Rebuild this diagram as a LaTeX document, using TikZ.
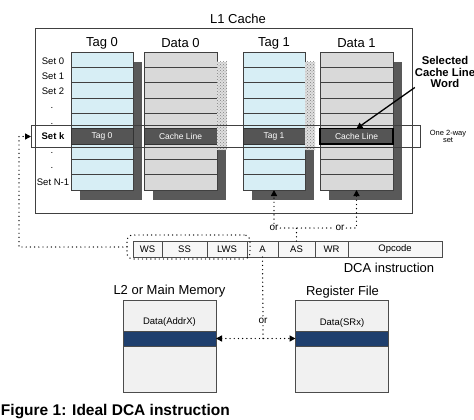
\documentclass[tikz,border=0pt]{standalone}
\usepackage{fontspec}
\setmainfont{Liberation Sans}
\usetikzlibrary{positioning,arrows.meta,patterns}
\definecolor{tagblue}{RGB}{215,238,245}
\definecolor{datgray}{RGB}{217,217,217}
\definecolor{bardark}{RGB}{85,85,85}
\definecolor{shadowgray}{RGB}{89,89,89}
\definecolor{bandblue}{RGB}{31,63,110}
\definecolor{boxgray}{RGB}{241,241,241}
\newcommand{\fsz}[1]{\fontsize{#1}{#1}\selectfont}

\begin{document}
\begin{tikzpicture}[x=1pt,y=-1pt,
    every node/.style={inner sep=0pt, outer sep=0pt},
    col/.style={draw=black!75, line width=0.6pt},
    rowbar/.style={draw=black!80, fill=bardark, text=white, font=\fsz{8.5}, minimum height=15.3},
    setlbl/.style={font=\fsz{9.5}},
    fld/.style={draw=black!70, line width=0.6pt, fill=gray!6, font=\fsz{9.5}, minimum height=16},
    membox/.style={draw=black!70, line width=0.6pt, fill=boxgray, minimum width=93, minimum height=92},
    band/.style={draw=black!70, fill=bandblue, minimum width=93, minimum height=15},
    ortxt/.style={font=\fsz{10}, inner sep=2pt},
    dotline/.style={line width=1.4pt, line cap=round, dash pattern=on 0pt off 4.2pt},
    >={Triangle[length=6pt,width=6pt]}]
  \useasboundingbox (0,0) rectangle (474,420);

  % L1 cache frame
  \node[draw=black!75, line width=0.7pt, minimum width=377, minimum height=185] (l1) at (223.5,120.5) {};
  \node[font=\fsz{13}] (l1-t) at (238,19) {L1 Cache};

  % Ways (tag and data arrays with shadows)
  \foreach \cx/\w/\nm/\fc/\ttl/\btxt in {71/62/tagA/tagblue/Tag 0/Tag 0, 144/73/datA/datgray/Data 0/Cache Line,
      243/62/tagB/tagblue/Tag 1/Tag 1, 320/73/datB/datgray/Data 1/Cache Line} {
    \fill[shadowgray] (\cx+9,62) rectangle (\cx+\w+9,200);
    \node[col, fill=\fc, minimum width=\w, minimum height=138] (\nm) at (\cx+\w/2,121) {};
    \foreach \r in {1,...,8}
      \draw[black!75, line width=0.6pt] (\cx,52+\r*15.33) -- ++(\w,0);
    \node[rowbar, minimum width=\w] (\nm-k) at (\cx+\w/2,136.3) {\btxt};
    \node[font=\fsz{13}] (\nm-t) at (\cx+\w/2,43) {\ttl};
  }
  \foreach \cx in {217,305} {
    \fill[gray!25] (\cx,62) rectangle (\cx+10,150);
    \fill[pattern=crosshatch dots, pattern color=gray] (\cx,62) rectangle (\cx+10,150);
  }
  \draw[line width=1.2pt] (datB-k.north west) rectangle (datB-k.south east);

  % Set labels
  \foreach \y/\s [count=\i] in {61/Set 0, 76.5/Set 1, 91.5/Set 2, 182.5/Set N-1}
    \node[setlbl] (set-\i) at (53,\y) {\s};
  \foreach \y [count=\i] in {108,124,153,168}
    \node[setlbl] (dot-\i) at (52,\y) {.};
  \node[setlbl, font=\bfseries\fsz{9.5}] (set-k) at (53,136.5) {Set k};

  % One 2-way set
  \node[draw=black!75, line width=0.6pt, minimum width=389, minimum height=22] (setk) at (225.5,136.5) {};
  \node[font=\fsz{7.5}, align=center] (way2) at (448,136.5) {One 2-way\\set};

  % Selected word
  \node[font=\bfseries\fsz{11.3}, align=center] (selw) at (445,72) {Selected\\Cache Line\\Word};
  \draw[->, line width=1.3pt] (selw.south west) -- (datB-k.north);

  % DCA instruction fields
  \node[fld, minimum width=29] (ws) at (147.5,249) {WS};
  \node[fld, minimum width=45, right=0pt of ws] (ss) {SS};
  \node[fld, minimum width=40, right=0pt of ss] (lws) {LWS};
  \node[fld, minimum width=31, right=0pt of lws] (afld) {A};
  \node[fld, minimum width=37, right=0pt of afld] (as) {AS};
  \node[fld, minimum width=33, right=0pt of as] (wr) {WR};
  \node[fld, minimum width=94, right=0pt of wr] (opc) {Opcode};
  \node[font=\fsz{13}] (dca) at (389,268) {DCA instruction};
  \node[draw, dotline, rounded corners=6pt, minimum width=123, minimum height=24] (grp) at (188.5,247) {};

  % Memory and register file
  \node[membox] (mem) at (169.5,346) {};
  \node[band] (memband) at (169.5,338.5) {};
  \node[font=\fsz{13}] (mem-t) at (169.5,291) {L2 or Main Memory};
  \node[font=\fsz{9.5}] (mem-d) at (169.5,322) {Data(AddrX)};
  \node[membox] (reg) at (342,346) {};
  \node[band] (regband) at (342,338.5) {};
  \node[font=\fsz{13}] (reg-t) at (342.5,292) {Register File};
  \node[font=\fsz{9.5}] (reg-d) at (342,323) {Data(SRx)};

  % Connectors
  \node[ortxt] (or1) at (274,228) {or};
  \node[ortxt] (or2) at (340,228) {or};
  \node[ortxt] (or3) at (263,321) {or};
  \coordinate (lbend) at (19,136.5);
  \draw[dotline, ->] (grp.west) -| (lbend) -- (setk.west);
  \draw[dotline, ->] (or1.north) -- (tagB.south);
  \draw[dotline] (or1.east) -- (or2.west);
  \draw[dotline, ->] (or2.east) -| (datB.south);
  \draw[dotline] (as.north) -- (as.north |- or1);
  \draw[dotline] (afld.south) -- (or3.north);
  \draw[dotline] (or3.south) -- (or3.south |- memband.east);
  \draw[dotline, <->] (memband.east) -- (regband.west);

  % Caption
  \node[font=\bfseries\fsz{15.5}, anchor=north west] (cap) at (1,404) {Figure 1: Ideal DCA instruction};
\end{tikzpicture}
\end{document}
